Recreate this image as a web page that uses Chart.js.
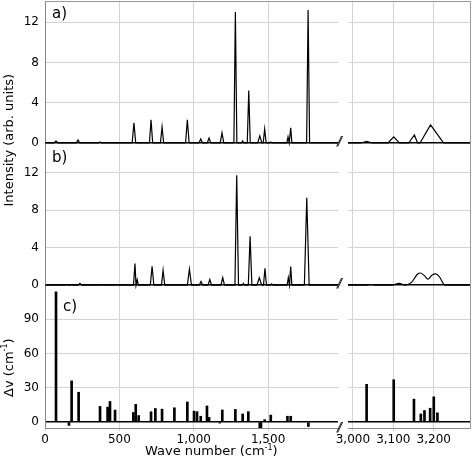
<!DOCTYPE html>
<html>
<head>
<meta charset="utf-8">
<script src="https://cdn.jsdelivr.net/npm/chart.js@4"></script>
<style>
  body { margin: 0; background: #fff; font-family: "DejaVu Sans", sans-serif; }
  #wrap { position: relative; width: 474px; height: 464px; overflow: hidden; }
  .box { position: absolute; }
  .lbl { position: absolute; font-size: 15px; color: #000; }
  .brk { position: absolute; font-size: 12px; font-style: italic; color: #222; letter-spacing: -3px; }
  .ytitle { position: absolute; font-size: 13px; transform: rotate(-90deg); transform-origin: center; white-space: nowrap; }
  sup { font-size: 8px; }
  .frame { position: absolute; left: 45px; top: 1px; width: 425px; height: 427px; border-top: 1px solid #999; border-right: 1px solid #999; pointer-events: none; }
</style>
</head>
<body>
<div id="wrap">
  <div class="box" style="left:9px;top:2px;width:329px;height:145px"><canvas id="aL"></canvas></div>
  <div class="box" style="left:328px;top:2px;width:143px;height:145px"><canvas id="aR"></canvas></div>
  <div class="box" style="left:9px;top:147px;width:329px;height:142px"><canvas id="bL"></canvas></div>
  <div class="box" style="left:328px;top:147px;width:143px;height:142px"><canvas id="bR"></canvas></div>
  <div class="box" style="left:9px;top:289px;width:329px;height:159px"><canvas id="cL"></canvas></div>
  <div class="box" style="left:328px;top:289px;width:143px;height:159px"><canvas id="cR"></canvas></div>
  <div class="frame"></div>

  <div class="lbl" style="left:52px;top:4px">a)</div>
  <div class="lbl" style="left:52px;top:148px">b)</div>
  <div class="lbl" style="left:63px;top:297px">c)</div>

  <div class="brk" style="left:337px;top:134px">//</div>
  <div class="brk" style="left:337px;top:276px">//</div>
  <div class="brk" style="left:337px;top:420px">//</div>

  <div class="ytitle" style="left:-52px;top:139px;width:120px;text-align:center">Intensity (arb. units)</div>
  <div class="ytitle" style="left:-22px;top:360px;width:60px;text-align:center">Δv (cm<sup>-1</sup>)</div>
  <div class="lbl" style="left:145px;top:443px;font-size:13px">Wave number (cm<sup>-1</sup>)</div>
</div>
<script>
(function() {
    'use strict';

    // panel a) peaks: centre (cm-1), height, half width
    var aPos = [74, 222, 370, 598, 713, 787, 957, 1047, 1103, 1190, 1280, 1329, 1370, 1444, 1477, 1518, 1634, 1652, 1769,
                3034, 3101, 3152, 3192];
    var aHgt = [0.2, 0.3, 0.1, 2.0, 2.3, 1.6, 2.3, 0.4, 0.5, 1.0, 13.0, 0.2, 5.2, 0.7, 1.4, 0.1, 0.6, 1.5, 13.2,
                0.15, 0.6, 0.8, 1.8];
    var aWid = [12, 12, 10, 12, 11, 11, 12, 12, 12, 12, 10, 8, 10, 14, 10, 8, 8, 8, 10,
                14, 14, 14, 32];

    // panel b) peaks
    var bPos = [146, 179, 235, 381, 482, 605, 620, 720, 794, 971, 1049, 1108, 1195, 1289, 1334, 1379, 1441, 1479, 1524, 1636, 1652, 1760];
    var bHgt = [0.05, 0.05, 0.2, 0.05, 0.05, 2.3, 0.6, 2.0, 1.6, 1.7, 0.4, 0.6, 0.8, 11.7, 0.2, 5.2, 0.8, 1.8, 0.15, 0.8, 2.0, 9.3];
    var bWid = [8, 8, 12, 8, 8, 10, 8, 12, 11, 14, 12, 12, 12, 12, 8, 12, 16, 10, 8, 8, 8, 16];
    // panel b) high-wavenumber band, read point by point
    var bHighX = [2988, 3030, 3044, 3058, 3096, 3114, 3130, 3145, 3160, 3167, 3176, 3186, 3196, 3205, 3214, 3228, 3292];
    var bHighY = [0, 0, 0.05, 0, 0, 0.2, 0.02, 0.3, 1.2, 1.3, 1.05, 0.65, 1.1, 1.2, 0.9, 0, 0];

    // panel c) frequency shifts
    var cPos = [74, 161, 179, 226, 370, 421, 437, 471, 594, 610, 630, 713, 742, 787, 870, 957, 1002, 1022, 1047, 1089, 1103,
                1175, 1192, 1280, 1329, 1367, 1444, 1452, 1477, 1518, 1630, 1652, 1771,
                3034, 3101, 3151, 3168, 3177, 3191, 3200, 3209];
    var cVal = [114, -3, 36, 26, 13.6, 13, 18, 10.4, 8.3, 15.4, 5.6, 8.9, 11.8, 11.2, 12.4, 17.5, 9.5, 9, 5, 14, 4,
                -1, 10.5, 11, 7, 9, -5, -5, 2, 6, 5, 5, -4,
                33, 37, 20, 7, 10, 12, 22, 8];

    var leftTicks = [0, 500, 1000, 1500];
    var rightTicks = [3000, 3100, 3200];
    var intTicks = [0, 4, 8, 12];
    var dvTicks = [0, 30, 60, 90];

    var LEFT_MIN = 0, LEFT_MAX = 1970, RIGHT_MIN = 2988, RIGHT_MAX = 3292;
    var FONT = { family: 'DejaVu Sans', size: 12 };

    function spectrum(pos, hgt, wid, lo, hi) {
        var pts = [{ x: lo, y: 0 }];
        for (var i = 0; i < pos.length; i++) {
            if (pos[i] < lo || pos[i] > hi) continue;
            pts.push({ x: pos[i] - wid[i], y: 0 });
            pts.push({ x: pos[i], y: hgt[i] });
            pts.push({ x: pos[i] + wid[i], y: 0 });
        }
        pts.push({ x: hi, y: 0 });
        pts.sort(function(p, q) { return p.x - q.x; });
        return pts;
    }

    function fixTicks(list) {
        return function(scale) {
            scale.ticks = list.map(function(v) { return { value: v }; });
        };
    }

    function gridColor(ctx) {
        return ctx.tick && ctx.tick.value === 0 ? '#000' : '#d4d4d4';
    }

    function makeChart(id, type, datasets, opt) {
        var isLeft = opt.side === 'left';
        new Chart(document.getElementById(id), {
            type: type,
            data: { datasets: datasets },
            options: {
                responsive: true,
                maintainAspectRatio: false,
                animation: false,
                events: [],
                layout: { padding: 0 },
                plugins: { legend: { display: false }, tooltip: { enabled: false } },
                scales: {
                    x: {
                        type: 'linear',
                        offset: false,
                        min: isLeft ? LEFT_MIN : RIGHT_MIN,
                        max: isLeft ? LEFT_MAX : RIGHT_MAX,
                        afterBuildTicks: fixTicks(isLeft ? leftTicks : rightTicks),
                        afterFit: function(s) {
                            s.height = opt.bottom ? 20 : 0;
                            s.paddingLeft = 0; s.paddingRight = 0;
                        },
                        grid: { offset: false, color: '#d4d4d4', drawTicks: !!opt.bottom, tickLength: 3 },
                        border: { display: true, color: '#888' },
                        ticks: { display: !!opt.bottom, color: '#000', font: FONT, maxRotation: 0, padding: 2 }
                    },
                    y: {
                        min: opt.ymin,
                        max: opt.ymax,
                        afterBuildTicks: fixTicks(opt.ticks),
                        afterFit: function(s) {
                            s.width = isLeft ? 36 : 20;
                            s.paddingTop = 0; s.paddingBottom = 0;
                        },
                        grid: { color: gridColor, lineWidth: function(ctx) { return ctx.tick && ctx.tick.value === 0 ? 1.5 : 1; }, drawTicks: false },
                        border: { display: isLeft, color: '#888' },
                        ticks: { display: isLeft, color: '#000', font: FONT, padding: 6 }
                    }
                }
            }
        });
    }

    function lineSet(pts, tension) {
        return {
            data: pts,
            borderColor: '#000',
            borderWidth: 1.2,
            pointRadius: 0,
            fill: false,
            tension: tension,
            cubicInterpolationMode: tension ? 'monotone' : 'default'
        };
    }

    function barSet(lo, hi) {
        var pts = [];
        for (var i = 0; i < cPos.length; i++) {
            if (cPos[i] >= lo && cPos[i] <= hi) pts.push({ x: cPos[i], y: cVal[i] });
        }
        return { data: pts, backgroundColor: '#000', barThickness: 2, grouped: false };
    }

    var bHigh = bHighX.map(function(x, i) { return { x: x, y: bHighY[i] }; });

    makeChart('aL', 'line', [lineSet(spectrum(aPos, aHgt, aWid, LEFT_MIN, LEFT_MAX), 0)],
        { side: 'left', ymin: -0.4, ymax: 14, ticks: intTicks });
    makeChart('aR', 'line', [lineSet(spectrum(aPos, aHgt, aWid, RIGHT_MIN, RIGHT_MAX), 0)],
        { side: 'right', ymin: -0.4, ymax: 14, ticks: intTicks });
    makeChart('bL', 'line', [lineSet(spectrum(bPos, bHgt, bWid, LEFT_MIN, LEFT_MAX), 0)],
        { side: 'left', ymin: -0.4, ymax: 14.7, ticks: intTicks });
    makeChart('bR', 'line', [lineSet(bHigh, 0.4)],
        { side: 'right', ymin: -0.4, ymax: 14.7, ticks: intTicks });
    makeChart('cL', 'bar', [barSet(LEFT_MIN, LEFT_MAX)],
        { side: 'left', ymin: -5.3, ymax: 116.5, ticks: dvTicks, bottom: true });
    makeChart('cR', 'bar', [barSet(RIGHT_MIN, RIGHT_MAX)],
        { side: 'right', ymin: -5.3, ymax: 116.5, ticks: dvTicks, bottom: true });
})();
</script>
</body>
</html>
